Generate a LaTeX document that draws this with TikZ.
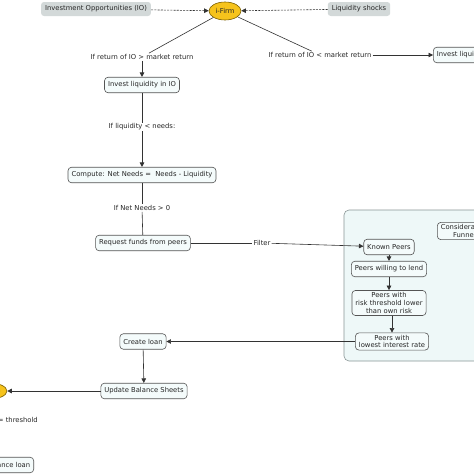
\documentclass[tikz,border=0pt]{standalone}
\usepackage{fontspec}
\setmainfont{DejaVu Sans}
\usetikzlibrary{arrows.meta,shapes.geometric}
\definecolor{boxfill}{HTML}{F4FBFB}
\definecolor{boxline}{HTML}{555555}
\definecolor{greyfill}{HTML}{D3D9D9}
\definecolor{contfill}{HTML}{EEF8F8}
\definecolor{contline}{HTML}{8A9696}
\definecolor{firmfill}{HTML}{F6C31C}
\definecolor{firmline}{HTML}{7A5E00}
\definecolor{linecol}{HTML}{333333}
\tikzset{
  every node/.style={font=\fontsize{6.8}{7.9}\selectfont, text=black!85},
  conc/.style={draw=boxline, fill=boxfill, rounded corners=3.5pt, line width=0.6pt, inner xsep=3.5pt, inner ysep=2pt, minimum height=15.5pt, align=center},
  greybox/.style={fill=greyfill, rounded corners=3pt, inner xsep=4pt, minimum height=14pt},
  firm/.style={ellipse, draw=firmline, fill=firmfill, line width=0.6pt, inner xsep=0pt, inner ysep=0.5pt, minimum width=32pt, minimum height=18pt},
  lab/.style={inner sep=1pt, fill=white},
  cont/.style={draw=contline, fill=contfill, rounded corners=5pt, line width=0.6pt},
  link/.style={draw=linecol, line width=0.6pt},
  arr/.style={link, -{Triangle[length=4.5pt,width=4.5pt]}},
  dasharr/.style={arr, dash pattern=on 2pt off 1.2pt}
}
\begin{document}
\begin{tikzpicture}[x=1pt,y=-1pt]
\useasboundingbox (0,0) rectangle (474,474);
\clip (0,0) rectangle (474,474);
\fill[white] (0,0) rectangle (474,474);
% container
\node[cont, minimum width=150pt, minimum height=151pt] (funnelbox) at (419,285.5) {};
% top row
\node[greybox] (io) at (96,9) {Investment Opportunities (IO)};
\node[firm] (firmn) at (225,11) {i-Firm};
\node[greybox] (liq) at (359,9) {Liquidity shocks};
\draw[dasharr] (io) -- (firmn);
\draw[dasharr] (liq) -- (firmn);
% labels
\node[lab] (l1) at (142,57) {If return of IO > market return};
\node[lab] (l2) at (320,55) {If return of IO < market return};
\node[conc, anchor=west] (invm) at (433,55) {Invest liquidity in market};
\node[conc] (inv) at (142,85) {Invest liquidity in IO};
\draw[link] (firmn) -- (l1);
\draw[link] (firmn) -- (l2);
\draw[arr] (l1) -- (inv);
\draw[arr] (l2) -- (invm);
\node[lab] (l3) at (142,127) {If liquidity < needs:};
\node[conc] (comp) at (142,175) {Compute: Net Needs =\ \ Needs - Liquidity};
\draw[link] (inv) -- (l3);
\draw[arr] (l3) -- (comp);
\node[lab] (l4) at (142,208) {If Net Needs > 0};
\node[conc] (req) at (143,243) {Request funds from peers};
\draw[link] (comp) -- (l4);
\draw[link] (l4) -- (req);
\node[lab] (filt) at (262,243) {Filter};
% funnel
\node[conc, anchor=west] (consid) at (437,231) {Consideration\\Funnel};
\node[conc] (known) at (389,247) {Known Peers};
\node[conc] (willing) at (389,269) {Peers willing to lend};
\node[conc] (risk) at (389,303) {Peers with\\risk threshold lower\\than own risk};
\node[conc] (lowest) at (392,341.5) {Peers with\\lowest interest rate};
\draw[link] (req) -- (filt);
\draw[arr] (filt) -- (known);
\draw[arr] (known) -- (willing);
\draw[arr] (willing) -- (risk);
\draw[arr] (risk.south -| lowest) -- (lowest);
% bottom
\node[conc] (create) at (143,341.5) {Create loan};
\node[conc] (upd) at (144,391) {Update Balance Sheets};
\node[firm, minimum width=40pt, minimum height=17pt] (bal) at (-13,391) {Balance};
\draw[arr] (lowest) -- (create);
\draw[arr] (create) -- (upd);
\draw[arr] (upd) -- (bal);
\node[lab, anchor=east] (thr) at (39,421) {If liquidity >= threshold};
\node[conc, anchor=east] (fin) at (34,465) {Finance loan};
\end{tikzpicture}
\end{document}
